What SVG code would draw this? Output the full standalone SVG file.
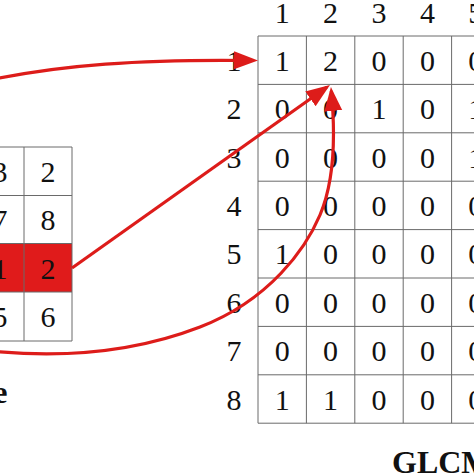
<svg xmlns="http://www.w3.org/2000/svg" width="474" height="474" viewBox="0 0 474 474">
<style>
.grid{fill:none;stroke:#6a6a6a;stroke-width:1}
.num{font-family:"Liberation Serif","Times New Roman",serif;font-size:30px;fill:#111;text-anchor:middle}
.lbl{font-family:"Liberation Serif","Times New Roman",serif;font-size:32px;font-weight:bold;fill:#111}
.arr{fill:none;stroke:#dd1c1a;stroke-width:3.2}
</style>
<defs>
<marker id="ah" markerUnits="userSpaceOnUse" markerWidth="26" markerHeight="20" refX="20" refY="9" orient="auto">
<path d="M0,0 L24,9 L0,18 z" fill="#dd1c1a"/>
</marker>
</defs>
<rect width="474" height="474" fill="#fff"/>

<g id="image-matrix">
<rect x="0" y="243.5" width="72" height="48.5" fill="#e01b1b"/>
<path class="grid" d="M0,147 H72 M0,195.5 H72 M0,243.5 H72 M0,292 H72 M0,341 H72 M24,147 V341 M72,147 V341"/>
<g class="num">
<text x="0" y="181.5">3</text><text x="48" y="181.5">2</text>
<text x="0" y="230">7</text><text x="48" y="230">8</text>
<text x="0" y="278.5">1</text><text x="48" y="278.5">2</text>
<text x="0" y="327">5</text><text x="48" y="327">6</text>
</g>
<text class="lbl" x="7.5" y="403" text-anchor="end">Image</text>
</g>

<g id="glcm-matrix">
<path class="grid" d="M258,36 H480 M258,84.4 H480 M258,132.8 H480 M258,181.2 H480 M258,229.6 H480 M258,278 H480 M258,326.4 H480 M258,374.8 H480 M258,423.2 H480 M258,36 V423.2 M306.4,36 V423.2 M354.8,36 V423.2 M403.2,36 V423.2 M451.6,36 V423.2"/>
<g class="num">
<text x="282.2" y="22.5">1</text><text x="330.6" y="22.5">2</text><text x="379" y="22.5">3</text><text x="427.4" y="22.5">4</text><text x="475.8" y="22.5">5</text>
<text x="234" y="70.7">1</text><text x="234" y="119.1">2</text><text x="234" y="167.5">3</text><text x="234" y="215.9">4</text><text x="234" y="264.3">5</text><text x="234" y="312.7">6</text><text x="234" y="361.1">7</text><text x="234" y="409.5">8</text>
<text x="282.2" y="70.7">1</text><text x="330.6" y="70.7">2</text><text x="379" y="70.7">0</text><text x="427.4" y="70.7">0</text><text x="475.8" y="70.7">0</text>
<text x="282.2" y="119.1">0</text><text x="330.6" y="119.1">0</text><text x="379" y="119.1">1</text><text x="427.4" y="119.1">0</text><text x="475.8" y="119.1">1</text>
<text x="282.2" y="167.5">0</text><text x="330.6" y="167.5">0</text><text x="379" y="167.5">0</text><text x="427.4" y="167.5">0</text><text x="475.8" y="167.5">1</text>
<text x="282.2" y="215.9">0</text><text x="330.6" y="215.9">0</text><text x="379" y="215.9">0</text><text x="427.4" y="215.9">0</text><text x="475.8" y="215.9">0</text>
<text x="282.2" y="264.3">1</text><text x="330.6" y="264.3">0</text><text x="379" y="264.3">0</text><text x="427.4" y="264.3">0</text><text x="475.8" y="264.3">0</text>
<text x="282.2" y="312.7">0</text><text x="330.6" y="312.7">0</text><text x="379" y="312.7">0</text><text x="427.4" y="312.7">0</text><text x="475.8" y="312.7">0</text>
<text x="282.2" y="361.1">0</text><text x="330.6" y="361.1">0</text><text x="379" y="361.1">0</text><text x="427.4" y="361.1">0</text><text x="475.8" y="361.1">0</text>
<text x="282.2" y="409.5">1</text><text x="330.6" y="409.5">1</text><text x="379" y="409.5">0</text><text x="427.4" y="409.5">0</text><text x="475.8" y="409.5">0</text>
</g>
<text class="lbl" x="392" y="473">GLCM</text>
</g>

<g id="connectors">
<path class="arr" marker-end="url(#ah)" d="M-10,80 C60,65 140,59 254,60.5"/>
<path class="arr" marker-end="url(#ah)" d="M72,268 L326.7,87.3"/>
<path class="arr" marker-end="url(#ah)" d="M-10,351 C60,358 130,354 200,327 C270,300 306,248 320,215 C334,182 336,140 331.3,91"/>
</g>
</svg>
